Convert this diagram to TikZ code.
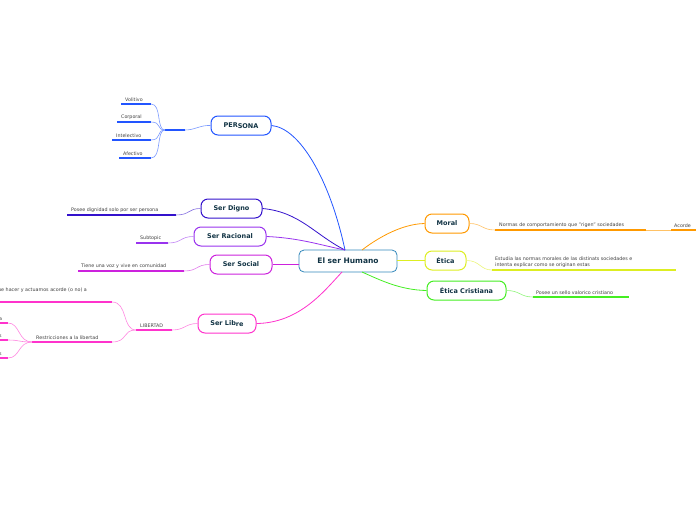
\documentclass[tikz,border=0pt]{standalone}
\usepackage{fontspec}
\setmainfont{DejaVu Sans}
\definecolor{cBlue}{HTML}{2255FF}
\definecolor{cDigno}{HTML}{3311CC}
\definecolor{cRac}{HTML}{9933EE}
\definecolor{cSoc}{HTML}{CC22DD}
\definecolor{cLib}{HTML}{FF33CC}
\definecolor{cMor}{HTML}{FF9900}
\definecolor{cEt}{HTML}{DDEE22}
\definecolor{cEc}{HTML}{44EE22}
\definecolor{cCen}{HTML}{3388BB}
\definecolor{txt}{HTML}{113344}
\begin{document}
\begin{tikzpicture}[x=1pt,y=-1pt,
  mainbox/.style={draw=#1,line width=1pt,rounded corners=7pt,fill=white,font=\fontsize{6.5}{7}\selectfont\bfseries,text=txt,minimum height=19pt,inner sep=0pt},
  leaf/.style={font=\fontsize{4.8}{5.6}\selectfont,text=black!75,inner sep=1pt,anchor=south west},
  ul/.style={draw=#1,line width=1.2pt},
  con/.style={draw=#1,line width=0.8pt},
  thin/.style={draw=#1!60,line width=0.6pt}]
\useasboundingbox (0,0) rectangle (696,520);
% central
\node[draw=cCen,line width=0.8pt,rounded corners=5pt,fill=white,minimum width=98pt,minimum height=22pt,font=\fontsize{7.5}{8}\selectfont\bfseries,text=txt] (c) at (348,261) {El ser Humano};
% main nodes
\node[mainbox=cBlue,minimum width=60pt] (per) at (241,125.5) {PER\raisebox{-0.6pt}{SONA}};
\node[mainbox=cDigno,minimum width=61pt] (dig) at (231.5,208.5) {Ser Digno};
\node[mainbox=cRac,minimum width=72pt] (rac) at (230,236.5) {Ser Racional};
\node[mainbox=cSoc,minimum width=62pt] (soc) at (241,264.5) {Ser Social};
\node[mainbox=cLib,minimum width=58pt] (lib) at (227,323.5) {Ser Lib\raisebox{-0.8pt}{re}};
\node[mainbox=cMor,minimum width=44pt] (mor) at (447,223.5) {Moral};
\node[mainbox=cEt,minimum width=41pt] (eti) at (445.5,260.5) {Ética};
\node[mainbox=cEc,minimum width=79pt] (etc) at (466.5,290.5) {Ética Cristiana};
% center connectors
\coordinate (ct) at (345,250);
\coordinate (cb) at (342,272);
\draw[con=cBlue] (per.east) .. controls (300,128) and (330,180) .. (ct);
\draw[con=cDigno] (dig.east) .. controls (300,212) and (315,235) .. (ct);
\draw[con=cRac] (rac.east) .. controls (300,238) and (320,245) .. (ct);
\draw[con=cSoc] (soc.east) -- (c.west |- soc.east);
\draw[con=cLib] (lib.east) .. controls (300,323) and (325,290) .. (cb);
\draw[con=cMor] (mor.west) .. controls (400,224) and (375,240) .. (362,250);
\draw[con=cEt] (eti.west) -- (c.east |- eti.west);
\draw[con=cEc] (etc.west) .. controls (400,290) and (380,280) .. (362,272);
% PERSONA children
\coordinate (pj) at (185,130); \coordinate (pj2) at (165,130);
\draw[thin=cBlue] (per.west) .. controls (200,125) and (195,130) .. (pj);
\draw[ul=cBlue] (pj) -- (pj2);
\foreach \n/\t/\a/\y in {v/Volitivo/121/104,co/Corporal/117/122,in/Intelectivo/112/140,af/Afectivo/119/158}{
  \coordinate (\n a) at (\a,\y); \coordinate (\n b) at (151,\y);
  \node[leaf] (\n) at (\a+3,\y-1.5) {\t};
  \draw[ul=cBlue] (\n a) -- (\n b);
  \draw[thin=cBlue] (\n b) .. controls (162,\y) and (156,130) .. (pj2);
}
% Digno
\coordinate (da) at (67,215); \coordinate (db) at (176,215);
\node[leaf] (dt) at (70,213.5) {Posee dignidad solo por ser persona};
\draw[ul=cDigno] (da) -- (db);
\draw[thin=cDigno] (db) .. controls (190,215) and (188,208.5) .. (dig.west);
% Racional
\coordinate (ra) at (136,243); \coordinate (rb) at (168,243);
\node[leaf] (rt) at (139,241.5) {Subtopic};
\draw[ul=cRac] (ra) -- (rb);
\draw[thin=cRac] (rb) .. controls (182,243) and (180,236.5) .. (rac.west);
% Social
\coordinate (sa) at (78,271); \coordinate (sb) at (184,271);
\node[leaf] (st) at (80,269.5) {Tiene una voz y vive en comunidad};
\draw[ul=cSoc] (sa) -- (sb);
\draw[thin=cSoc] (sb) .. controls (198,271) and (196,264.5) .. (soc.west);
% Libre
\coordinate (la) at (136,330); \coordinate (lb) at (172,330);
\node[leaf] (lt) at (139,328.5) {LIBERTAD};
\draw[ul=cLib] (la) -- (lb);
\draw[thin=cLib] (lb) .. controls (185,330) and (185,323.5) .. (lib.west);
\coordinate (qa) at (0,302); \coordinate (qb) at (112,302);
\node[leaf,anchor=west] (qt) at (-3,290) {ue hacer y actuamos acorde (o no) a};
\draw[ul=cLib] (qa) -- (qb);
\draw[thin=cLib] (qb) .. controls (128,302) and (122,330) .. (la);
\coordinate (xa) at (32,342); \coordinate (xb) at (112,342);
\node[leaf] (xt) at (35,340.5) {Restricciones a la libertad};
\draw[ul=cLib] (xa) -- (xb);
\draw[thin=cLib] (xb) .. controls (128,342) and (122,330) .. (la);
\foreach \n/\t/\y in {l1/a/323,l2/s/340,l3/s/358}{
  \coordinate (\n a) at (0,\y); \coordinate (\n b) at (8,\y);
  \node[leaf] (\n) at (-2,\y-1.5) {\t};
  \draw[ul=cLib] (\n a) -- (\n b);
  \draw[thin=cLib] (\n b) .. controls (20,\y) and (18,342) .. (xa);
}
% Moral
\coordinate (ma) at (495,230); \coordinate (mb) at (646,230);
\node[leaf] (mt) at (498,228.5) {Normas de comportamiento que "rigen" sociedades};
\draw[ul=cMor] (ma) -- (mb);
\draw[thin=cMor] (mor.east) .. controls (482,223.5) and (482,230) .. (ma);
\coordinate (m2a) at (671,230); \coordinate (m2b) at (696,230);
\node[leaf] (m2t) at (673,228.5) {Acorde};
\draw[ul=cMor] (m2a) -- (m2b);
\draw[thin=cMor] (mb) -- (m2a);
% Etica
\coordinate (ea) at (492,270); \coordinate (eb) at (676,270);
\node[leaf,align=left] (et) at (494,268.5) {Estudia las normas morales de las distinats sociedades e\\intenta explicar como se originan estas};
\draw[ul=cEt] (ea) -- (eb);
\draw[thin=cEt] (eti.east) .. controls (480,260.5) and (480,270) .. (ea);
% Etica cristiana
\coordinate (ka) at (533,297); \coordinate (kb) at (629,297);
\node[leaf] (kt) at (535,295.5) {Posee un sello valorico cristiano};
\draw[ul=cEc] (ka) -- (kb);
\draw[thin=cEc] (etc.east) .. controls (520,290.5) and (520,297) .. (ka);
\end{tikzpicture}
\end{document}
